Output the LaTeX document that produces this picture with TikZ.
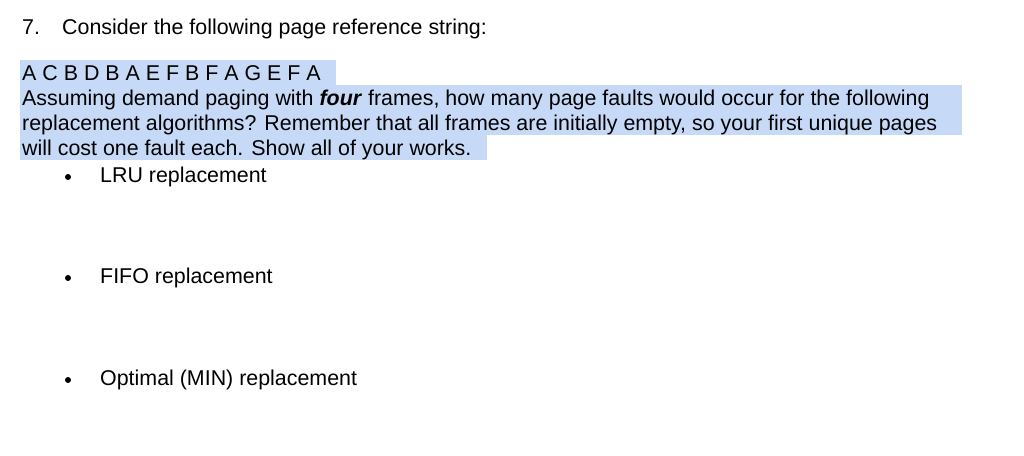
\documentclass[tikz,border=0pt]{standalone}
\usepackage{fontspec}
\setmainfont{Liberation Sans}
\definecolor{hl}{HTML}{C6D9F7}
\begin{document}
\begin{tikzpicture}[x=1pt,y=-1pt,
  txt/.style={anchor=base west,inner sep=0pt,font=\fontsize{21.4}{25}\selectfont},
  bul/.style={circle,fill=black,inner sep=0pt,minimum size=6pt}]
\useasboundingbox (0,0) rectangle (1024,455);
\fill[white] (0,0) rectangle (1024,455);
\fill[hl] (20,60) rectangle (336,85);
\fill[hl] (20,85) rectangle (962,110);
\fill[hl] (20,110) rectangle (962,135);
\fill[hl] (20,135) rectangle (487,160);
\node[txt] (n7) at (22,34) {7.};
\node[txt] (q) at (62,34) {Consider the following page reference string:};
\node[txt] (s) at (22,80) {A C B D B A E F B F A G E F A};
\node[txt] (l1) at (22,105) {Assuming demand paging with \textbf{\textit{four}} frames, how many page faults would occur for the following};
\node[txt] (l2) at (22,130) {replacement algorithms? Remember that all frames are initially empty, so your first unique pages};
\node[txt] (l3) at (22,155) {will cost one fault each. Show all of your works.};
\node[bul] (b1) at (68,177) {};
\node[txt] (t1) at (100,182) {LRU replacement};
\node[bul] (b2) at (68,278) {};
\node[txt] (t2) at (100,283) {FIFO replacement};
\node[bul] (b3) at (68,380) {};
\node[txt] (t3) at (100,385) {Optimal (MIN) replacement};
\end{tikzpicture}
\end{document}
